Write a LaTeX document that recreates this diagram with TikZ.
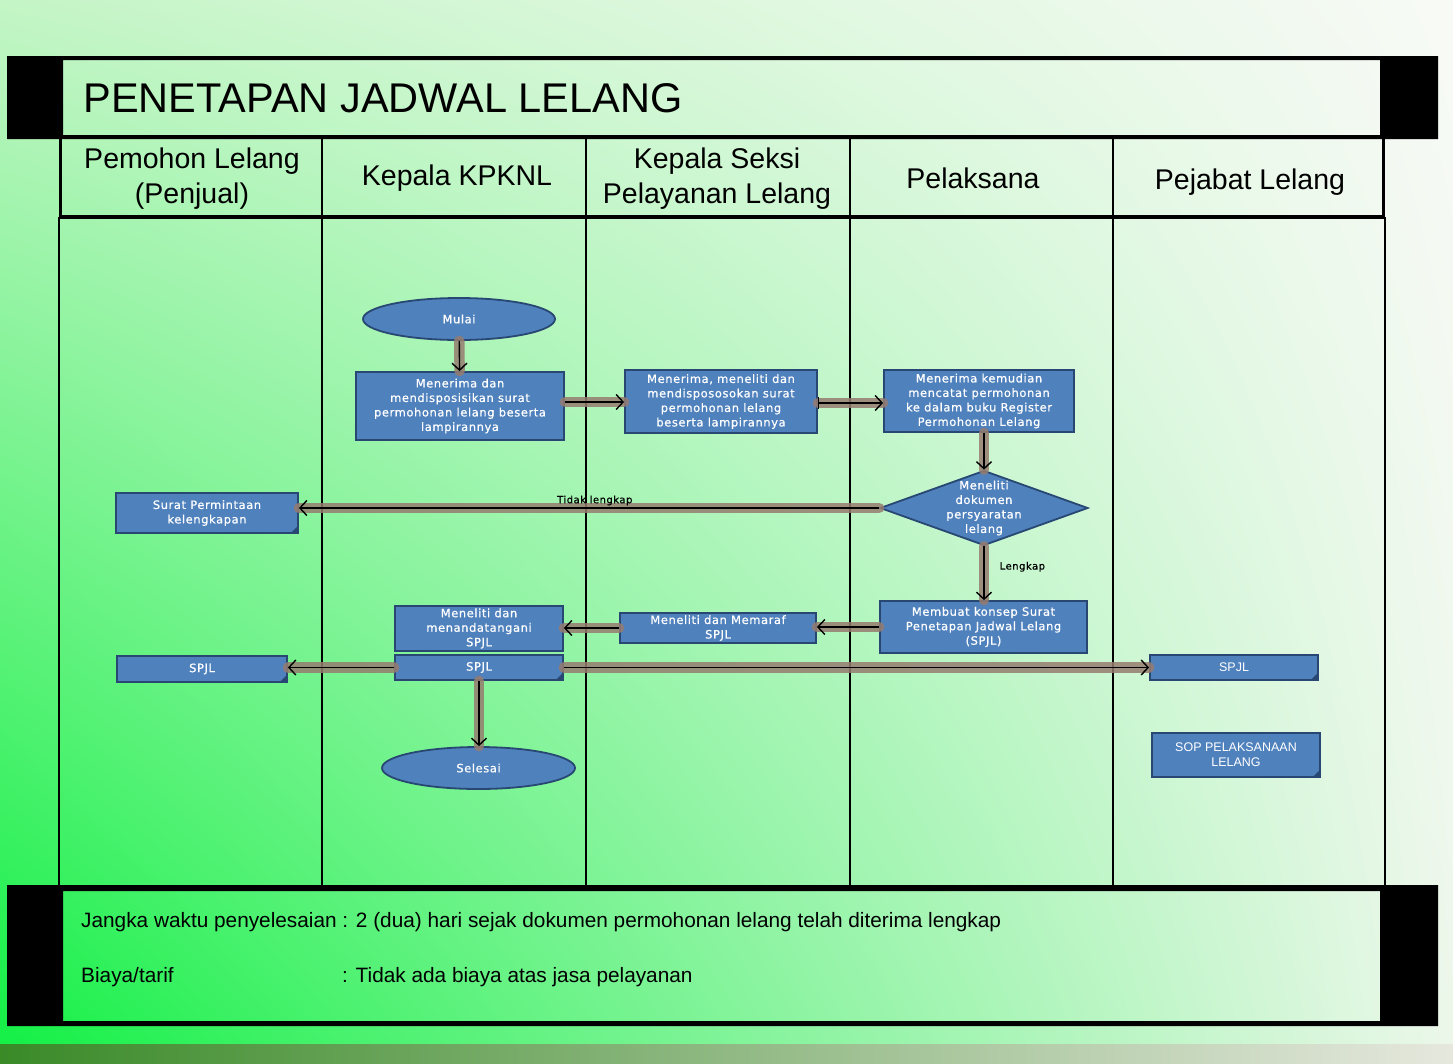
\documentclass[tikz,border=0pt]{standalone}
\usepackage{fontspec}
\setmainfont{Liberation Sans}
\newfontfamily\kotakfont[LetterSpace=5,FakeBold=0.6]{DejaVu Sans}
\usetikzlibrary{arrows.meta,shapes.geometric,positioning,shadings}

\definecolor{boxblue}{RGB}{79,129,189}
\definecolor{boxedge}{RGB}{40,72,115}
\definecolor{glow}{RGB}{150,124,112}
\definecolor{hijauA}{RGB}{196,245,198}
\definecolor{hijauB}{RGB}{248,250,246}
\definecolor{hijauC}{RGB}{20,240,70}
\definecolor{hijauD}{RGB}{236,247,234}
\definecolor{stripA}{RGB}{58,138,40}
\definecolor{stripB}{RGB}{230,232,222}

\tikzset{
  kotak/.style={draw=boxedge, line width=1.8pt, fill=boxblue, text=white,
    font=\kotakfont\fontsize{11.5}{14.5}\selectfont, align=center, inner sep=2pt},
  oval/.style={kotak, ellipse, inner sep=0pt},
  wajik/.style={kotak, diamond, inner sep=0pt},
  teks/.style={text=white, font=\kotakfont\fontsize{11.5}{14.5}\selectfont, align=center},
  ket/.style={font=\kotakfont\fontsize{10}{12}\selectfont, text=black, inner sep=1pt},
  alur/.style={line width=1.4pt, draw=black,
    -{Straight Barb[length=7pt,width=15pt,line width=1.4pt]},
    preaction={draw=glow, line width=10.5pt, line cap=round, draw opacity=0.85, -}},
  lajur/.style={line width=2.5pt},
  judul/.style={font=\fontsize{28.5}{35}\selectfont, align=center}
}

\begin{document}
\begin{tikzpicture}[x=1pt,y=-1pt]
\newcommand{\lipat}[1]{\fill[boxedge] (#1.south east) ++(-9,0) -- ++(9,-9) -- ++(-2,7) -- cycle;}
\useasboundingbox (0,0) rectangle (1453,1063);
% background
\shade[upper left=hijauA, upper right=hijauB, lower left=hijauC, lower right=hijauD] (0,0) rectangle (1453,1044);
\shade[left color=stripA, right color=stripB] (0,1044) rectangle (1453,1063);
% frames
\fill[black, even odd rule] (7,56) rectangle (1438,139) (63,60) rectangle (1380,135);
\fill[black, even odd rule] (7,885) rectangle (1438,1026) (63,891) rectangle (1380,1021);
\node[anchor=west, font=\fontsize{41.5}{49}\selectfont] (title) at (80,98) {PENETAPAN JADWAL LELANG};
% lanes
\draw[line width=3pt] (60,139) -- (60,217) (1383,139) -- (1383,217);
\draw[line width=3.5pt] (60,217) -- (1385,217);
\draw[lajur] (59,217) -- (59,885) (1385,217) -- (1385,885);
\foreach \x in {322,586,850,1113} \draw[lajur] (\x,139) -- (\x,885);
\node[judul] (h1) at (192,179) {Pemohon Lelang\\(Penjual)};
\node[judul] (h2) at (457,178) {Kepala KPKNL};
\node[judul] (h3) at (717,179) {Kepala Seksi\\Pelayanan Lelang};
\node[judul] (h4) at (973,178) {Pelaksana};
\node[judul] (h5) at (1250,182) {Pejabat Lelang};

% flow
\node[oval, minimum width=192pt, minimum height=42pt] (mulai) at (459,319) {Mulai};
\node[kotak, minimum width=208pt, minimum height=68pt] (terima1) at (460,406) {Menerima dan\\mendisposisikan surat\\permohonan lelang beserta\\lampirannya};
\node[kotak, minimum width=192pt, minimum height=63pt] (terima2) at (721,401.5) {Menerima, meneliti dan\\mendispososokan surat\\permohonan lelang\\beserta lampirannya};
\node[kotak, minimum width=190pt, minimum height=62pt] (catat) at (979,401) {Menerima kemudian\\mencatat permohonan\\ke dalam buku Register\\Permohonan Lelang};
\node[wajik, minimum width=208pt, minimum height=75pt,
  label={[teks]center:{Meneliti\\dokumen\\persyaratan\\lelang}}] (teliti) at (984,508) {};
\node[kotak, minimum width=182pt, minimum height=40pt] (surat) at (207,513) {Surat Permintaan\\kelengkapan};
\node[kotak, minimum width=207pt, minimum height=52pt] (konsep) at (983.5,627) {Membuat konsep Surat\\Penetapan Jadwal Lelang\\(SPJL)};
\node[kotak, minimum width=196pt, minimum height=30pt] (paraf) at (718,628) {Meneliti dan Memaraf\\SPJL};
\node[kotak, minimum width=168pt, minimum height=45pt] (ttd) at (479,628.5) {Meneliti dan\\menandatangani\\SPJL};
\node[kotak, minimum width=168pt, minimum height=25pt] (spjlA) at (479,667.5) {SPJL};
\node[kotak, minimum width=170pt, minimum height=26pt] (spjlB) at (202,669) {SPJL};
\node[kotak, minimum width=168pt, minimum height=25pt, font=\fontsize{12.5}{15}\selectfont] (spjlC) at (1234,667.5) {SPJL};
\node[kotak, minimum width=168pt, minimum height=44pt, font=\fontsize{12.5}{15}\selectfont] (sop) at (1236,755) {SOP PELAKSANAAN\\LELANG};
\node[oval, minimum width=193pt, minimum height=42pt] (selesai) at (478.5,768) {Selesai};
\foreach \d in {surat,spjlA,spjlB,spjlC,sop} {\lipat{\d}}

\draw[alur] (mulai) -- (terima1);
\draw[alur] (terima1.east |- 0,402) -- (terima2.west |- 0,402);
\draw[alur, {Bar[width=12pt,line width=1pt]}-{Straight Barb[length=7pt,width=15pt,line width=1.4pt]}] (terima2.east |- 0,403) -- (catat.west |- 0,403);
\draw[alur] (catat.south -| teliti) -- (teliti.north);
\draw[alur] (teliti.west) -- (surat.east |- teliti.west) node[ket, pos=0.49, above=1pt] {Tidak lengkap};
\draw[alur] (teliti.south) -- (konsep.north -| teliti) node[ket, pos=0.38, right=14pt] {Lengkap};
\draw[alur] (konsep.west) -- (paraf.east |- konsep.west);
\draw[alur] (paraf.west) -- (ttd.east |- paraf.west);
\draw[alur] (spjlA.west) -- (spjlB.east |- spjlA.west);
\draw[alur] (spjlA.east) -- (spjlC.west |- spjlA.east);
\draw[alur] (spjlA.south) -- (selesai.north -| spjlA);

% footer
\node[anchor=west, inner sep=0pt, font=\fontsize{20.8}{24}\selectfont] (jangka) at (81,922) {Jangka waktu penyelesaian : 2 (dua) hari sejak dokumen permohonan lelang telah diterima lengkap};
\node[anchor=west, inner sep=0pt, font=\fontsize{20.8}{24}\selectfont] (biaya) at (81,977) {Biaya/tarif};
\node[anchor=west, inner sep=0pt, font=\fontsize{20.8}{24}\selectfont] (tarif) at (342,977) {: Tidak ada biaya atas jasa pelayanan};
\end{tikzpicture}
\end{document}
